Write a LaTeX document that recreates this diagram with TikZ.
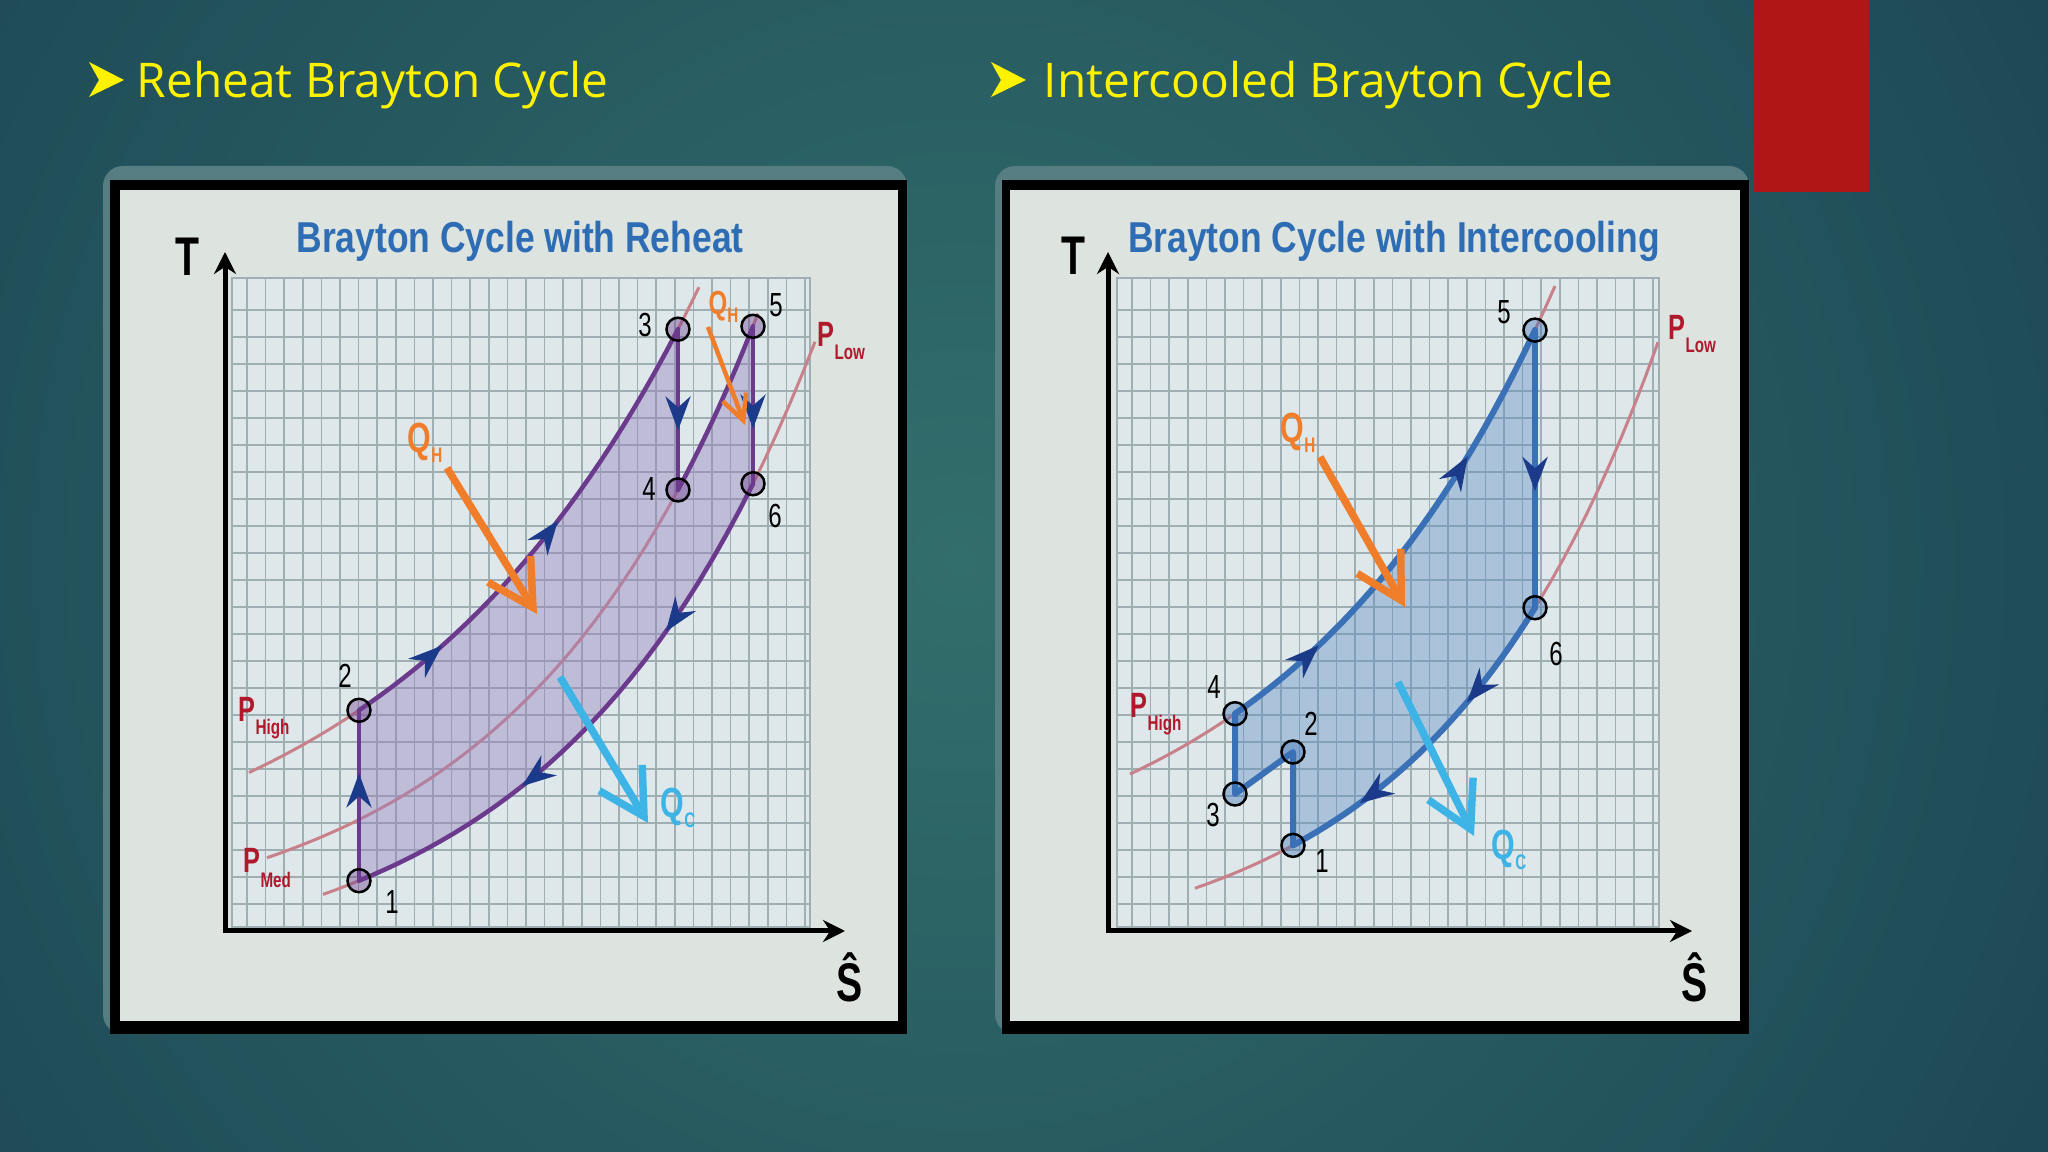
\documentclass[tikz,border=0pt]{standalone}
\usepackage{fontspec}
\usepackage{graphicx}
\usetikzlibrary{arrows.meta,decorations.markings}
\setmainfont{Open Sans}
\newfontfamily\narrowsans[FakeStretch=0.72]{Liberation Sans}
\newfontfamily\titlesans[FakeStretch=0.82]{Liberation Sans}

\definecolor{bgin}{RGB}{50,110,108}
\definecolor{bgout}{RGB}{24,64,80}
\definecolor{bevel}{RGB}{86,126,130}
\definecolor{panel}{RGB}{221,228,224}
\definecolor{gridbg}{RGB}{222,232,234}
\definecolor{gridgray}{RGB}{158,174,178}
\definecolor{isopink}{RGB}{200,128,138}
\definecolor{reheatpurple}{RGB}{108,58,140}
\definecolor{reheatfill}{RGB}{150,128,192}
\definecolor{coolblue}{RGB}{58,112,182}
\definecolor{coolfill}{RGB}{92,140,196}
\definecolor{arrownavy}{RGB}{28,58,138}
\definecolor{pred}{RGB}{176,24,44}
\definecolor{qorange}{RGB}{240,125,42}
\definecolor{qblue}{RGB}{62,180,230}
\definecolor{titleblue}{RGB}{46,109,180}
\definecolor{slidered}{RGB}{175,22,22}

% isobars, x and y measured in pixels of the slide
\newcommand{\phighL}[1]{915-62.7*exp(0.0033*#1)}
\newcommand{\pmedL}[1]{940-27.27*exp(0.00413*#1)}
\newcommand{\plowL}[1]{982-23.72*exp(0.00404*#1)}
\newcommand{\phighR}[1]{900.3-77.8*exp(0.00373*(#1-1000))}
\newcommand{\plowR}[1]{965.2-31.9*exp(0.00451*(#1-1000))}
\newcommand{\withsub}[3][1.3mm]{#2\raisebox{-#1}{\fontsize{6}{6}\selectfont #3}}

\tikzset{flowtip/.tip={Stealth[length=3.4mm,width=2.5mm,inset=1.1mm,color=arrownavy]}}

\begin{document}
\begin{tikzpicture}[x=0.1mm,y=-0.1mm,>={Stealth[length=2.2mm,width=2.2mm]},
  isobar/.style={isopink,line width=0.3mm},
  gridline/.style={gridgray,line width=0.15mm},
  axis/.style={black,line width=0.5mm},
  reheat/.style={reheatpurple,line width=0.45mm,line cap=round},
  cool/.style={coolblue,line width=0.6mm,line cap=round,line join=round},
  onearrow/.style={postaction={decorate},decoration={markings,mark=at position #1 with {\arrow{flowtip}}}},
  twoarrows/.style 2 args={postaction={decorate},decoration={markings,mark=at position #1 with {\arrow{flowtip}},mark=at position #2 with {\arrow{flowtip}}}},
  state/.style={circle,draw=black,line width=0.25mm,minimum size=2.3mm,inner sep=0pt,fill opacity=0.4},
  num/.style={font=\narrowsans\fontsize{9.5}{9.5}\selectfont,inner sep=0pt},
  axlabel/.style={font=\narrowsans\bfseries\fontsize{15.5}{15.5}\selectfont,inner sep=0pt},
  plabel/.style={text=pred,font=\narrowsans\bfseries\fontsize{10}{10}\selectfont,inner sep=0pt,anchor=base west},
  qlabel/.style={font=\narrowsans\bfseries\fontsize{12}{12}\selectfont,inner sep=0pt,anchor=base west},
  heatin/.style={qorange,line width=0.75mm,-{Straight Barb[length=4.5mm,width=5mm,line width=0.75mm]}},
  heatout/.style={qblue,line width=0.75mm,-{Straight Barb[length=4.5mm,width=5mm,line width=0.75mm]}},
  smallheat/.style={qorange,line width=0.45mm,-{Straight Barb[length=2.5mm,width=2.5mm,line width=0.45mm]}},
  paneltitle/.style={text=titleblue,font=\titlesans\bfseries\fontsize{12.3}{12.3}\selectfont,anchor=base,inner sep=0pt},
  slidetitle/.style={text=yellow,font=\fontsize{13.6}{13.6}\selectfont,anchor=base west,inner sep=0pt},
  bullet/.style={fill=yellow}]
  \useasboundingbox (0,0) rectangle (2048,1152);
  % slide background
  \begin{scope}
    \clip (0,0) rectangle (2048,1152);
    \shade[inner color=bgin,outer color=bgout] (960,560) circle (1500);
  \end{scope}
  \fill[slidered] (1754,0) rectangle (1869,192);
  \fill[bullet] (89,62) -- (124,80) -- (89,97) -- (99,80) -- cycle;
  \node[slidetitle] (headL) at (136,98) {Reheat Brayton Cycle};
  \fill[bullet] (991,62) -- (1026,80) -- (991,97) -- (1001,80) -- cycle;
  \node[slidetitle] (headR) at (1043,98) {Intercooled Brayton Cycle};

  % left panel: reheat
  \fill[bevel,rounded corners=2mm] (103,166) rectangle (907,1034);
  \fill[black] (110,180) rectangle (907,1034);
  \fill[panel] (120,190) rectangle (898,1021);
  \fill[gridbg] (232,278) rectangle (810,927);
  \foreach \gx in {247,265.6,...,809} \draw[gridline] (\gx,278) -- (\gx,927);
  \foreach \gy in {310,337,...,926} \draw[gridline] (232,\gy) -- (810,\gy);
  \draw[gridline] (232,278) rectangle (810,927);
  \node[paneltitle] (titL) at (520,253) {Brayton Cycle with Reheat};
  \coordinate (yL) at (225,252);
  \coordinate (xL) at (845,931);
  \draw[axis,<->] (yL) |- (xL);
  \node[axlabel] (tL) at (187,257) {T};
  \node[axlabel,anchor=base] (sL) at (850,1002) {Ŝ};
  \draw[isobar] plot[domain=249:699,samples=40] (\x,{\phighL{\x}});
  \draw[isobar] plot[domain=267:758,samples=40] (\x,{\pmedL{\x}});
  \draw[isobar] plot[domain=323:815,samples=40] (\x,{\plowL{\x}});
  \coordinate (a1) at (359,{\plowL{359}});
  \coordinate (a2) at (359,{\phighL{359}});
  \coordinate (a3) at (678,{\phighL{678}});
  \coordinate (a4) at (678,{\pmedL{678}});
  \coordinate (a5) at (753,{\pmedL{753}});
  \coordinate (a6) at (753,{\plowL{753}});
  \fill[reheatfill,fill opacity=0.42] (a1) -- (a2) -- plot[domain=359:678,samples=30] (\x,{\phighL{\x}})
    -- (a4) -- plot[domain=678:753,samples=10] (\x,{\pmedL{\x}})
    -- (a6) -- plot[domain=753:359,samples=30] (\x,{\plowL{\x}}) -- cycle;
  \draw[reheat,onearrow=0.63] (a1) -- (a2);
  \draw[reheat,twoarrows={0.21}{0.55}] plot[domain=359:678,samples=30] (\x,{\phighL{\x}});
  \draw[reheat,onearrow=0.63] (a3) -- (a4);
  \draw[reheat] plot[domain=678:753,samples=10] (\x,{\pmedL{\x}});
  \draw[reheat,onearrow=0.65] (a5) -- (a6);
  \draw[reheat,twoarrows={0.3}{0.67}] plot[domain=753:359,samples=30] (\x,{\plowL{\x}});
  % heat in and out
  \coordinate (qa1) at (447,468);
  \coordinate (qa2) at (537,614);
  \draw[heatin] (qa1) -- (qa2);
  \coordinate (qa3) at (708,327);
  \coordinate (qa4) at (745,425);
  \draw[smallheat] (qa3) -- (qa4);
  \coordinate (qa5) at (560,677);
  \coordinate (qa6) at (648,823);
  \draw[heatout] (qa5) -- (qa6);
  \node[qlabel,text=qorange] (qhL) at (407,453) {\withsub[1mm]{Q}{H}};
  \node[qlabel,text=qorange,font=\narrowsans\bfseries\fontsize{9.5}{9.5}\selectfont] (qhL2) at (708,315) {\withsub[0.8mm]{Q}{H}};
  \node[qlabel,text=qblue] (qcL) at (660,818) {\withsub[1mm]{Q}{C}};
  \foreach \s in {1,...,6} \node[state,fill=reheatpurple] (sa\s) at (a\s) {};
  \node[num] (na1) at (392,902) {1};
  \node[num] (na2) at (345,676) {2};
  \node[num] (na3) at (645,325) {3};
  \node[num] (na4) at (649,489) {4};
  \node[num] (na5) at (776,305) {5};
  \node[num] (na6) at (775,516) {6};
  \node[plabel] (phL) at (238,722) {\withsub{P}{High}};
  \node[plabel] (pmL) at (243,873) {\withsub[1.5mm]{P}{Med}};
  \node[plabel] (plL) at (817,347) {\withsub{P}{Low}};

  % right panel: intercooling
  \fill[bevel,rounded corners=2mm] (995,166) rectangle (1749,1034);
  \fill[black] (1002,180) rectangle (1749,1034);
  \fill[panel] (1010,190) rectangle (1740,1021);
  \fill[gridbg] (1117,278) rectangle (1659,927);
  \foreach \gx in {1132,1150.6,...,1658} \draw[gridline] (\gx,278) -- (\gx,927);
  \foreach \gy in {310,337,...,926} \draw[gridline] (1117,\gy) -- (1659,\gy);
  \draw[gridline] (1117,278) rectangle (1659,927);
  \node[paneltitle] (titR) at (1394,253) {Brayton Cycle with Intercooling};
  \coordinate (yR) at (1108,252);
  \coordinate (xR) at (1692,931);
  \draw[axis,<->] (yR) |- (xR);
  \node[axlabel] (tR) at (1073,256) {T};
  \node[axlabel,anchor=base] (sR) at (1695,1002) {Ŝ};
  \draw[isobar] plot[domain=1130:1555,samples=40] (\x,{\phighR{\x}});
  \draw[isobar] plot[domain=1195:1658,samples=40] (\x,{\plowR{\x}});
  \coordinate (b1) at (1293,{\plowR{1293}});
  \coordinate (b2) at (1293,752);
  \coordinate (b3) at (1235,794);
  \coordinate (b4) at (1235,{\phighR{1235}});
  \coordinate (b5) at (1535,{\phighR{1535}});
  \coordinate (b6) at (1535,{\plowR{1535}});
  \fill[coolfill,fill opacity=0.4] (b1) -- (b2) -- (b3) -- (b4) -- plot[domain=1235:1535,samples=30] (\x,{\phighR{\x}})
    -- (b6) -- plot[domain=1535:1293,samples=30] (\x,{\plowR{\x}}) -- cycle;
  \draw[cool] (b1) -- (b2) -- (b3) -- (b4);
  \draw[cool,twoarrows={0.22}{0.71}] plot[domain=1235:1535,samples=30] (\x,{\phighR{\x}});
  \draw[cool,onearrow=0.58] (b5) -- (b6);
  \draw[cool,twoarrows={0.34}{0.77}] plot[domain=1535:1293,samples=30] (\x,{\plowR{\x}});
  \coordinate (qb1) at (1320,457);
  \coordinate (qb2) at (1405,607);
  \draw[heatin] (qb1) -- (qb2);
  \coordinate (qb3) at (1398,682);
  \coordinate (qb4) at (1474,836);
  \draw[heatout] (qb3) -- (qb4);
  \node[qlabel,text=qorange] (qhR) at (1280,443) {\withsub[1mm]{Q}{H}};
  \node[qlabel,text=qblue] (qcR) at (1491,860) {\withsub[1mm]{Q}{C}};
  \foreach \s in {1,...,6} \node[state,fill=coolblue] (sb\s) at (b\s) {};
  \node[num] (nb1) at (1322,861) {1};
  \node[num] (nb2) at (1311,724) {2};
  \node[num] (nb3) at (1213,815) {3};
  \node[num] (nb4) at (1214,687) {4};
  \node[num] (nb5) at (1504,312) {5};
  \node[num] (nb6) at (1556,654) {6};
  \node[plabel] (phR) at (1130,718) {\withsub{P}{High}};
  \node[plabel] (plR) at (1668,340) {\withsub{P}{Low}};
\end{tikzpicture}
\end{document}
